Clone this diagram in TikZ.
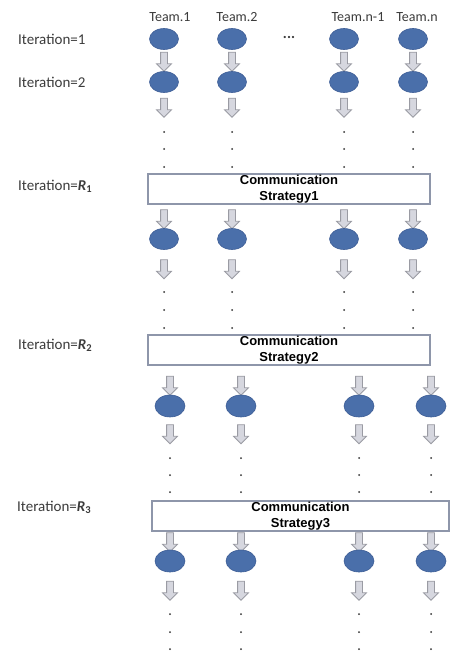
\documentclass[tikz,border=0pt]{standalone}
\usepackage{fontspec}
\setmainfont{Carlito}
\newfontfamily\boxfont{Liberation Sans}
\usetikzlibrary{shapes.geometric,shapes.arrows}
\definecolor{ellfill}{HTML}{4A6FAA}
\definecolor{elldraw}{HTML}{3E5E96}
\definecolor{arrfill}{HTML}{D6D7DF}
\definecolor{arrdraw}{HTML}{9A9BA3}
\definecolor{boxdraw}{HTML}{8E96AA}
\definecolor{lbl}{HTML}{3C3C3C}
\definecolor{dotc}{HTML}{303030}
\tikzset{
  teamnode/.style={ellipse, fill=ellfill, draw=elldraw, line width=0.6pt,
    minimum width=29pt, minimum height=21pt, inner sep=0pt},
  teamnodeb/.style={teamnode, minimum width=30pt, minimum height=22pt},
  blockarrow/.style={single arrow, rotate=-90, fill=arrfill, draw=arrdraw,
    line width=0.8pt, minimum height=19pt, inner sep=3pt,
    single arrow head extend=4pt, single arrow head indent=0pt},
  commbox/.style={rectangle, draw=boxdraw, line width=1.2pt, fill=white,
    minimum height=30pt, inner sep=0pt, align=center,
    font=\boxfont\bfseries\fontsize{13pt}{16pt}\selectfont},
  itlabel/.style={anchor=west, inner sep=0pt, text=lbl,
    font=\fontsize{15pt}{18pt}\selectfont},
  teamlabel/.style={inner sep=0pt, text=lbl,
    font=\fontsize{14pt}{17pt}\selectfont},
  dotmark/.style={fill=dotc}
}
\begin{document}
\begin{tikzpicture}[x=1pt,y=-1pt]
\useasboundingbox[fill=white] (0,0) rectangle (474,668);

% column headers
\node[teamlabel] (h1) at (170,17) {Team.1};
\node[teamlabel] (h2) at (237,17) {Team.2};
\node[teamlabel] (h3) at (358,17) {Team.n-1};
\node[teamlabel] (h4) at (417,17) {Team.n};
\node[teamlabel, font=\bfseries\fontsize{15pt}{18pt}\selectfont] (hdots) at (289,37) {...};

% iteration labels
\node[itlabel] (l1) at (18,39) {Iteration=1};
\node[itlabel] (l2) at (18,82) {Iteration=2};
\node[itlabel] (l3) at (18,186) {Iteration=\textbf{\textit{R}}\textsubscript{\textbf{1}}};
\node[itlabel] (l4) at (18,345) {Iteration=\textbf{\textit{R}}\textsubscript{\textbf{2}}};
\node[itlabel] (l5) at (17,507) {Iteration=\textbf{\textit{R}}\textsubscript{\textbf{3}}};

% communication boxes
\node[commbox, minimum width=282pt] (box1) at (289,189) {Communication\\Strategy1};
\node[commbox, minimum width=282pt] (box2) at (289,350) {Communication\\Strategy2};
\node[commbox, minimum width=297pt] (box3) at (300.5,516) {Communication\\Strategy3};

% first two sections
\foreach \x [count=\i] in {164,232,344,413} {
  \node[teamnode] (a\i) at (\x,39) {};
  \node[blockarrow] (aa\i) at (\x,60) {};
  \node[teamnode] (b\i) at (\x,82) {};
  \node[blockarrow] (ba\i) at (\x,106) {};
  \fill[dotmark] (\x,132) circle (1pt) (\x,149) circle (1pt) (\x,167) circle (1pt);
  \node[blockarrow] (ca\i) at (\x,217.5) {};
  \node[teamnode] (c\i) at (\x,239) {};
  \node[blockarrow] (cb\i) at (\x,267.5) {};
  \fill[dotmark] (\x,292) circle (1pt) (\x,310) circle (1pt) (\x,328) circle (1pt);
}
% last two sections
\foreach \x [count=\i] in {170,241,359,431} {
  \node[blockarrow] (da\i) at (\x,384) {};
  \node[teamnodeb] (d\i) at (\x,406) {};
  \node[blockarrow] (db\i) at (\x,432.5) {};
  \fill[dotmark] (\x,458) circle (1pt) (\x,475) circle (1pt) (\x,492) circle (1pt);
  \node[blockarrow] (ea\i) at (\x,540.5) {};
  \node[teamnodeb] (e\i) at (\x,561) {};
  \node[blockarrow] (eb\i) at (\x,589) {};
  \fill[dotmark] (\x,614) circle (1pt) (\x,632) circle (1pt) (\x,649) circle (1pt);
}
\end{tikzpicture}
\end{document}
